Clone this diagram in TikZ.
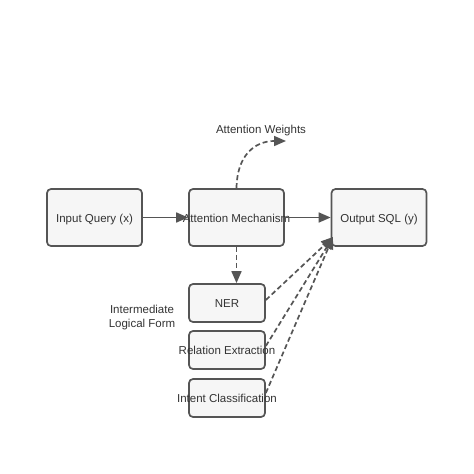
\documentclass[tikz,border=0pt]{standalone}
\usepackage{fontspec}
\setmainfont{Liberation Sans}
\usetikzlibrary{arrows.meta}
\definecolor{edge}{HTML}{555555}
\definecolor{boxfill}{HTML}{F6F6F6}
\definecolor{txt}{HTML}{333333}
\newcommand{\fixw}[1]{\raisebox{-4.5pt}[0pt][0pt]{\makebox[0pt][c]{#1}}}
\begin{document}
\begin{tikzpicture}[x=1pt,y=-1pt,
  box/.style={draw=edge,fill=boxfill,line width=1.7pt,rounded corners=4pt,minimum width=95pt,minimum height=57pt,inner sep=0pt,text=txt,font=\fontsize{11.5}{13}\selectfont},
  smallbox/.style={box,minimum width=76pt,minimum height=38pt},
  lbl/.style={text=txt,font=\fontsize{11.5}{14}\selectfont,align=center,inner sep=0pt},
  conn/.style={draw=edge,line width=1.7pt,-{Triangle[length=12pt,width=10pt]}},
  dconn/.style={conn,dash pattern=on 5pt off 3pt}]
\useasboundingbox (0,0) rectangle (474,474);
\node[box] (inp) at (94.5,217.5) {\fixw{Input Query (x)}};
\node[box] (att) at (236.5,217.5) {\fixw{Attention Mechanism}};
\node[box] (out) at (379,217.5) {\fixw{Output SQL (y)}};
\node[smallbox] (ner) at (227,303) {\fixw{NER}};
\node[smallbox] (rel) at (227,350) {\fixw{Relation Extraction}};
\node[smallbox] (int) at (227,398) {\fixw{Intent Classification}};
\node[lbl] (aw) at (261,131) {Attention Weights};
\node[lbl] (ilf) at (142,318) {Intermediate\\Logical Form};
\coordinate (awend) at (286,141);
\coordinate (corner) at (333,237);
\draw[conn] (inp.east) -- (att.west);
\draw[conn] (att.east) -- (out.west);
\draw[dconn] (att.south) -- (att.south |- ner.north);
\draw[dconn] (att.north) .. controls (237,155) and (255,141) .. (awend);
\draw[dconn] (ner.east |- 0,300) -- (corner);
\draw[dconn] (rel.east |- 0,346) -- (corner);
\draw[dconn] (int.east |- 0,393) -- (corner);
\end{tikzpicture}
\end{document}
